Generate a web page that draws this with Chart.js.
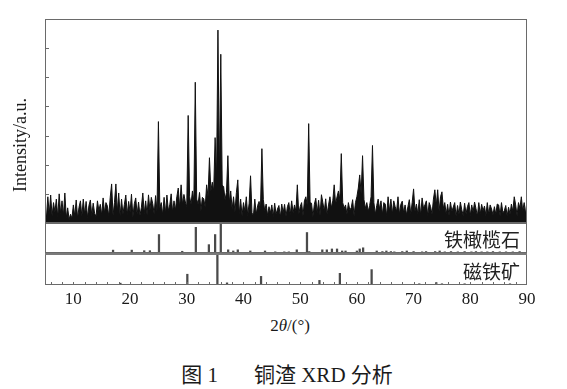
<!DOCTYPE html>
<html>
<head>
<meta charset="utf-8">
<script src="https://cdn.jsdelivr.net/npm/chart.js@4.4.0/dist/chart.umd.min.js"></script>
<style>
body { margin: 0; background: #fff; }
#wrap { position: relative; width: 567px; height: 389px; overflow: hidden; background: #fff;
        font-family: "Liberation Serif", "Noto Sans CJK SC", serif; color: #1a1a1a; }
canvas { position: absolute; left: 0; }
.lbl { position: absolute; white-space: nowrap; line-height: 1; }
#ytitle { left: 20px; top: 145px; font-size: 18px; transform: translate(-50%, -50%) rotate(-90deg); }
#xtitle { left: 290px; top: 325px; font-size: 17px; transform: translate(-50%, -50%); }
#caption { left: 287px; top: 375px; font-size: 21px; transform: translate(-50%, -50%); }
.phase { right: 47px; font-size: 19px; font-family: "Noto Sans CJK SC", sans-serif; transform: translateY(-50%); color: #222; }
</style>
</head>
<body>
<div id="wrap">
  <canvas id="cMain" width="567" height="225" style="top:0"></canvas>
  <canvas id="cFay" width="567" height="34" style="top:221px"></canvas>
  <canvas id="cMag" width="567" height="56" style="top:251px"></canvas>
  <div class="lbl" id="ytitle">Intensity/a.u.</div>
  <div class="lbl" id="xtitle">2<i>θ</i>/(°)</div>
  <div class="lbl phase" style="top:238px">铁橄榄石</div>
  <div class="lbl phase" style="top:270px">磁铁矿</div>
  <div class="lbl" id="caption">图 1<span style="margin-left:36px">铜渣 XRD 分析</span></div>
</div>
<script>
// measured pattern, 2theta from 5 to 90 in 0.25 deg steps (one row = one degree)
const START_ANGLE = 5
const STEP = 0.25
const INTENSITY = [
    420, 180, 900, 300,     // 5
    960, 240, 700, 380,     // 6
    820, 200, 1000, 330,    // 7
    760, 260, 1030, 180,    // 8
    520, 120, 300, 160,     // 9
    620, 240, 790, 170,     // 10
    540, 760, 230, 820,     // 11
    300, 740, 190, 600,     // 12
    790, 260, 680, 330,     // 13
    220, 760, 420, 640,     // 14
    270, 860, 350, 700,     // 15
    580, 240, 880, 1340,    // 16
    260, 700, 1340, 380,    // 17
    1030, 240, 820, 310,    // 18
    640, 960, 280, 740,     // 19
    380, 990, 210, 660,     // 20
    860, 300, 720, 260,     // 21
    540, 1030, 330, 760,    // 22
    280, 965, 450, 880,     // 23
    660, 310, 940, 400,     // 24
    3480, 520, 700, 280,    // 25
    880, 340, 960, 420,     // 26
    620, 1000, 380, 760,    // 27
    440, 900, 1200, 520,    // 28
    1310, 640, 980, 720,    // 29
    560, 3690, 900, 640,    // 30
    1100, 760, 4830, 820,   // 31
    640, 1050, 420, 880,    // 32
    830, 540, 1310, 900,    // 33
    2240, 1100, 1400, 1100, // 34
    2930, 1500, 6620, 1600, // 35
    5790, 1300, 1250, 800,  // 36
    1050, 2310, 700, 1100,  // 37
    480, 900, 380, 1040,    // 38
    1480, 300, 820, 250,    // 39
    700, 400, 900, 260,     // 40
    680, 1620, 350, 240,    // 41
    820, 300, 600, 740,     // 42
    500, 2550, 800, 420,    // 43
    650, 260, 560, 350,     // 44
    620, 220, 680, 300,     // 45
    480, 600, 200, 650,     // 46
    350, 640, 230, 560,     // 47
    700, 280, 760, 350,     // 48
    620, 400, 1310, 300,    // 49
    560, 700, 250, 760,     // 50
    900, 600, 3410, 700,    // 51
    680, 220, 640, 850,     // 52
    350, 780, 260, 970,     // 53
    700, 400, 830, 300,     // 54
    620, 900, 520, 760,     // 55
    1310, 640, 900, 1100,   // 56
    800, 2380, 700, 500,    // 57
    620, 300, 700, 450,     // 58
    520, 800, 260, 700,     // 59
    900, 1200, 1650, 1000,  // 60
    2310, 800, 500, 700,    // 61
    400, 600, 900, 2660,    // 62
    700, 300, 600, 820,     // 63
    480, 760, 300, 700,     // 64
    650, 250, 900, 400,     // 65
    820, 300, 760, 560,     // 66
    400, 900, 300, 640,     // 67
    750, 350, 620, 280,     // 68
    560, 800, 300, 700,     // 69
    1170, 400, 650, 300,    // 70
    800, 260, 860, 500,     // 71
    620, 760, 240, 700,     // 72
    560, 300, 820, 1140,    // 73
    600, 1140, 400, 900,    // 74
    1070, 500, 700, 300,    // 75
    640, 260, 720, 400,     // 76
    550, 700, 230, 600,     // 77
    300, 720, 450, 260,     // 78
    680, 320, 560, 700,     // 79
    260, 620, 380, 720,     // 80
    500, 240, 700, 300,     // 81
    640, 420, 580, 260,     // 82
    700, 300, 620, 480,     // 83
    280, 560, 300, 650,     // 84
    620, 250, 700, 350,     // 85
    420, 600, 240, 540,     // 86
    300, 650, 400, 900,     // 87
    620, 260, 700, 500,     // 88
    900, 400, 700, 300,     // 89
    820                     // 90
]

// reference cards (relative intensity, %)
const FAY_POS = [17.0, 20.3, 22.5, 23.5, 25.1, 29.2, 31.6, 33.9, 35.0, 36.0, 37.3, 38.2, 39.0, 41.2, 43.8, 45.6,
                 47.2, 48.0, 49.4, 51.2, 51.6, 53.9, 54.7, 55.6, 56.5, 57.4, 58.0, 60.0, 60.5, 61.1,
                 63.5, 64.5, 65.2, 66.0, 66.6, 68.0, 68.8, 70.0, 71.5, 72.2, 73.8, 74.6, 75.5, 76.6,
                 77.8, 79.0, 80.2, 81.0, 82.0, 83.0, 84.0, 85.2, 86.3, 87.5, 88.7]
const FAY_REL = [10, 10, 8, 8, 64, 6, 89, 29, 64, 100, 11, 7, 11, 7, 7, 4,
                 4, 4, 11, 71, 5, 11, 11, 14, 14, 7, 7, 7, 14, 18,
                 7, 5, 7, 5, 4, 5, 7, 5, 4, 5, 5, 7, 4, 5,
                 4, 5, 4, 5, 4, 4, 5, 4, 4, 4, 5]
const MAG_POS = [18.3, 30.1, 35.4, 37.1, 43.1, 53.4, 57.0, 62.6, 71.0, 74.0, 75.0, 79.0, 87.0]
const MAG_REL = [6, 35, 100, 7, 28, 15, 38, 50, 4, 8, 4, 4, 4]

const X_TICKS = [10, 20, 30, 40, 50, 60, 70, 80, 90]
const Y_TICKS = [1000, 2000, 3000, 4000, 5000, 6000]

const ANGLES = INTENSITY.map((v, i) => START_ANGLE + i * STEP)

/////////////////////////////////////////////////////////
// frame + inward tick marks
const framePlugin = {
    id: 'frame',
    afterDraw(chart, args, opts) {
        const ctx = chart.ctx
        const a = chart.chartArea
        ctx.save()
        ctx.strokeStyle = '#6a6a6a'
        ctx.lineWidth = 1
        ctx.strokeRect(a.left + 0.5, a.top + 0.5, a.right - a.left - 1, a.bottom - a.top - 1)
        if (opts.thickTop) {
            ctx.fillStyle = '#7a7a7a'
            ctx.fillRect(a.left, a.top, a.right - a.left, 2)
        }
        ctx.beginPath()
        if (opts.yTicks) {
            opts.yTicks.forEach(v => {
                const py = Math.round(chart.scales.y.getPixelForValue(v)) + 0.5
                ctx.moveTo(a.left, py)
                ctx.lineTo(a.left + 4, py)
            })
        }
        if (opts.xMinor) {
            for (let v = 6; v < 90; v += 2) {
                const px = Math.round(chart.scales.x.getPixelForValue(v)) + 0.5
                ctx.moveTo(px, a.bottom)
                ctx.lineTo(px, a.bottom - 3)
            }
        }
        ctx.stroke()
        ctx.restore()
    }
}

const PAD = { left: 45, right: 40 }

function xScale(show) {
    return {
        type: 'linear', min: 5, max: 90, display: show, offset: false,
        grid: { display: false, drawTicks: false },
        border: { display: false },
        ticks: { color: '#1a1a1a', padding: 4, font: { family: 'Liberation Serif', size: 17 }, maxRotation: 0 },
        afterBuildTicks: s => { s.ticks = X_TICKS.map(v => ({ value: v })) },
        afterFit: s => { s.height = show ? 22 : 0 }
    }
}

new Chart(document.getElementById('cMain'), {
    type: 'line',
    data: {
        datasets: [{
            data: INTENSITY.map((y, i) => ({ x: ANGLES[i], y: y })),
            borderColor: '#111',
            backgroundColor: '#111',
            fill: 'origin',
            borderWidth: 1,
            pointRadius: 0,
            tension: 0
        }]
    },
    options: {
        responsive: false, animation: false,
        layout: { padding: { left: PAD.left, right: PAD.right, top: 19, bottom: 2 } },
        plugins: { legend: { display: false }, tooltip: { enabled: false }, frame: { yTicks: Y_TICKS } },
        scales: {
            x: xScale(false),
            y: { min: 0, max: 7000, display: false }
        }
    },
    plugins: [framePlugin]
})

function stickChart(id, pos, rel, opts, showX) {
    return new Chart(document.getElementById(id), {
        type: 'bar',
        data: {
            datasets: [{
                data: pos.map((p, i) => ({ x: p, y: rel[i] })),
                backgroundColor: '#4a4a4a',
                barThickness: 1.6,
                grouped: false
            }]
        },
        options: {
            responsive: false, animation: false,
            layout: { padding: { left: PAD.left, right: PAD.right, top: 2, bottom: showX ? 0 : 2 } },
            plugins: { legend: { display: false }, tooltip: { enabled: false }, frame: opts },
            scales: {
                x: xScale(showX),
                y: { min: 0, max: 104, display: false }
            }
        },
        plugins: [framePlugin]
    })
}

stickChart('cFay', FAY_POS, FAY_REL, {}, false)
stickChart('cMag', MAG_POS, MAG_REL, { thickTop: true, xMinor: true }, true)
</script>
</body>
</html>
